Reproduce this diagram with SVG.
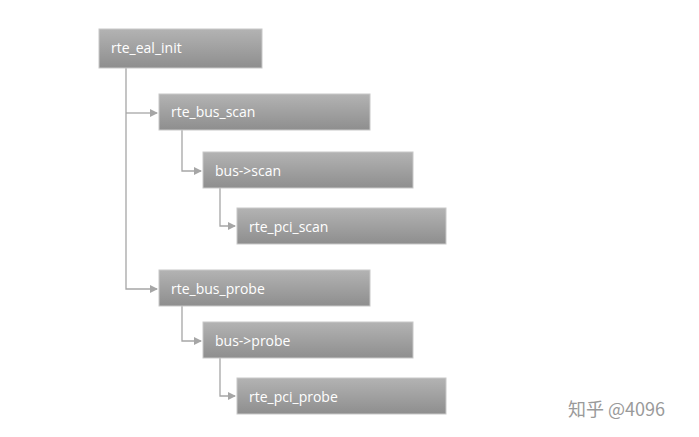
<svg xmlns="http://www.w3.org/2000/svg" width="699" height="437" viewBox="0 0 699 437">
<defs>
<linearGradient id="g" x1="0" y1="0" x2="0" y2="1"><stop offset="0" stop-color="#b3b3b3"/><stop offset="1" stop-color="#8e8e8e"/></linearGradient>
<marker id="a" markerWidth="8" markerHeight="8" refX="7" refY="4" orient="auto" markerUnits="userSpaceOnUse"><path d="M0,0 L8,4 L0,8 z" fill="#a6a6a6"/></marker>
</defs>
<style>
.b{fill:url(#g);stroke:#c8c8c8;stroke-width:1}
.t{font-family:"Open Sans","Liberation Sans",sans-serif;font-size:14px;fill:#fff}
.c{fill:none;stroke:#a6a6a6;stroke-width:1.3}
</style>
<rect width="699" height="437" fill="#fff"/>
<g id="connectors">
<path class="c" d="M126,68 V289 H157" marker-end="url(#a)"/>
<path class="c" d="M126,113 H157" marker-end="url(#a)"/>
<path class="c" d="M182,130 V171 H201" marker-end="url(#a)"/>
<path class="c" d="M220,188 V226 H235" marker-end="url(#a)"/>
<path class="c" d="M182,306 V341 H201" marker-end="url(#a)"/>
<path class="c" d="M220,358 V396 H235" marker-end="url(#a)"/>
</g>
<g id="n1"><rect class="b" x="99" y="29" width="163" height="39"/><text class="t" x="111" y="53">rte_eal_init</text></g>
<g id="n2"><rect class="b" x="159" y="94" width="211" height="36"/><text class="t" x="171" y="117">rte_bus_scan</text></g>
<g id="n3"><rect class="b" x="203" y="152" width="210" height="36"/><text class="t" x="215" y="176">bus-&gt;scan</text></g>
<g id="n4"><rect class="b" x="237" y="208" width="209" height="36"/><text class="t" x="249" y="232">rte_pci_scan</text></g>
<g id="n5"><rect class="b" x="159" y="270" width="211" height="36"/><text class="t" x="171" y="294">rte_bus_probe</text></g>
<g id="n6"><rect class="b" x="203" y="322" width="210" height="36"/><text class="t" x="215" y="346">bus-&gt;probe</text></g>
<g id="n7"><rect class="b" x="237" y="378" width="209" height="36"/><text class="t" x="249" y="402">rte_pci_probe</text></g>
<text x="568" y="416" font-family="'Noto Sans CJK SC',sans-serif" font-size="18" fill="#9a9a9a">知乎 @4096</text>
</svg>
